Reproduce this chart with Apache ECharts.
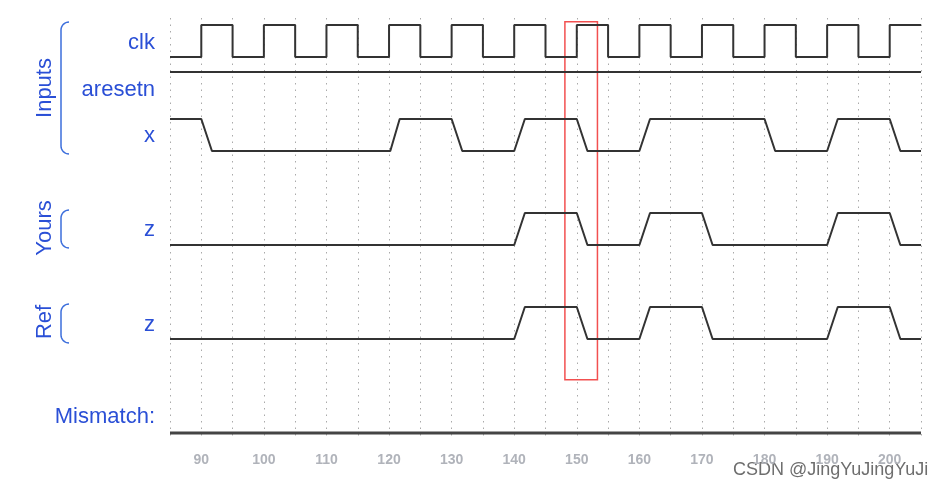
<!DOCTYPE html>
<html>
<head>
<meta charset="utf-8">
<script src="https://cdn.jsdelivr.net/npm/echarts@6/dist/echarts.min.js"></script>
<style>
  html, body { margin: 0; padding: 0; background: #fff; }
  #chart { width: 943px; height: 491px; }
</style>
</head>
<body>
<div id="chart"></div>
<script>
// waveform samples: [time, level]
var clkEdges = [[85, 0], [90, 1], [95, 0], [100, 1], [105, 0], [110, 1], [115, 0], [120, 1], [125, 0],
  [130, 1], [135, 0], [140, 1], [145, 0], [150, 1], [155, 0], [160, 1], [165, 0], [170, 1], [175, 0],
  [180, 1], [185, 0], [190, 1], [195, 0], [200, 1], [205, 1]]
var aresetnWave = [[85, 1], [205, 1]]
var xWave = [[85, 1], [90, 1], [91.7, 0], [120.2, 0], [121.7, 1], [130, 1], [131.7, 0], [140, 0],
  [141.7, 1], [150, 1], [151.7, 0], [160, 0], [161.7, 1], [180, 1], [181.7, 0], [190, 0], [191.7, 1],
  [200, 1], [201.7, 0], [205, 0]]
var zYours = [[85, 0], [140, 0], [141.7, 1], [150, 1], [151.7, 0], [160, 0], [161.7, 1], [170, 1],
  [171.7, 0], [190, 0], [191.7, 1], [200, 1], [201.7, 0], [205, 0]]
var zRef = [[85, 0], [140, 0], [141.7, 1], [150, 1], [151.7, 0], [160, 0], [161.7, 1], [170, 1],
  [171.7, 0], [190, 0], [191.7, 1], [200, 1], [201.7, 0], [205, 0]]
var mismatchWave = [[85, 0], [205, 0]]

var signalNames = ['clk', 'aresetn', 'x', 'z', 'z', 'Mismatch:']
var groupNames = ['Inputs', 'Yours', 'Ref']
var highlight = [148.1, 153.3]

var xMin = 85
var xMax = 205

var ROW_H = 47
var AMP = 32 / ROW_H
var LINE = '#333'
var BLUE = '#2a4fd6'

var chart = echarts.init(document.getElementById('chart'))

function place(data, slot) {
  return data.map(function (p) {
    return [p[0], p[1] * AMP - slot]
  })
}

function wave(name, data, slot, extra) {
  var s = {
    name: name,
    type: 'line',
    data: place(data, slot),
    showSymbol: false,
    animation: false,
    lineStyle: { color: LINE, width: 2 },
    silent: true
  }
  return Object.assign(s, extra || {})
}

var series = [
  wave('clk', clkEdges, 0, { step: 'end' }),
  wave('aresetn', aresetnWave, 1),
  wave('x', xWave, 2),
  wave('z', zYours, 4),
  wave('zref', zRef, 6, {
    markArea: {
      silent: true,
      itemStyle: { color: 'rgba(0,0,0,0)', borderColor: '#f25050', borderWidth: 1.5 },
      data: [[{ xAxis: highlight[0], yAxis: 0.751 }, { xAxis: highlight[1], yAxis: -6.87 }]]
    }
  }),
  wave('mismatch', mismatchWave, 8, { lineStyle: { color: '#444', width: 3 } })
]

var labelY = [43, 90, 136, 230, 325, 417]
var graphics = signalNames.map(function (n, i) {
  return {
    type: 'text',
    x: 155,
    y: labelY[i],
    style: {
      text: n, fill: BLUE, font: '22px "Liberation Sans", Arial, sans-serif',
      textAlign: 'right', textVerticalAlign: 'middle'
    }
  }
})

var groupY = [88, 228, 322]
groupNames.forEach(function (g, i) {
  graphics.push({
    type: 'text',
    x: 45,
    y: groupY[i],
    rotation: Math.PI / 2,
    style: {
      text: g, fill: BLUE, font: '22px "Liberation Sans", Arial, sans-serif',
      textAlign: 'center', textVerticalAlign: 'middle'
    }
  })
})

// rounded bracket: vertical stroke with quarter-circle ends
function bracketPoints(top, bottom) {
  var r = 8, pts = [], a
  for (a = 0; a <= 8; a++) {
    var t = Math.PI / 2 * a / 8
    pts.push([61 + r - r * Math.sin(t), top + r - r * Math.cos(t)])
  }
  for (a = 0; a <= 8; a++) {
    var u = Math.PI / 2 * a / 8
    pts.push([61 + r - r * Math.cos(u), bottom - r + r * Math.sin(u)])
  }
  return pts
}

var brackets = [[22, 154], [210, 248], [304, 343]]
brackets.forEach(function (b) {
  graphics.push({
    type: 'polyline',
    shape: { points: bracketPoints(b[0], b[1]) },
    style: { fill: null, stroke: '#3d6fdc', lineWidth: 1.5 }
  })
})

graphics.push({
  type: 'text',
  x: 733,
  y: 470,
  style: {
    text: 'CSDN @JingYuJingYuJi', fill: '#6e6e6e', font: '18px "Liberation Sans", Arial, sans-serif',
    textVerticalAlign: 'middle', stroke: '#fff', lineWidth: 2
  }
})

chart.setOption({
  backgroundColor: '#fff',
  animation: false,
  grid: { left: 170, right: 22, top: 18, bottom: 51 },
  xAxis: {
    type: 'value',
    min: xMin,
    max: xMax,
    interval: 5,
    axisLine: { show: false },
    axisTick: { show: false },
    axisLabel: {
      color: '#b0b3ba',
      fontWeight: 'bold',
      fontSize: 14,
      margin: 13,
      fontFamily: '"Liberation Sans", Arial, sans-serif',
      showMinLabel: false,
      showMaxLabel: false,
      formatter: function (v) { return v % 10 === 0 ? String(v) : '' }
    },
    splitLine: { show: true, lineStyle: { color: '#aaaaaa', type: [1.5, 5], width: 1 } }
  },
  yAxis: {
    type: 'value',
    min: -8.15,
    max: 0.83,
    show: false,
    splitLine: { show: false }
  },
  series: series,
  graphic: graphics
})
</script>
</body>
</html>
